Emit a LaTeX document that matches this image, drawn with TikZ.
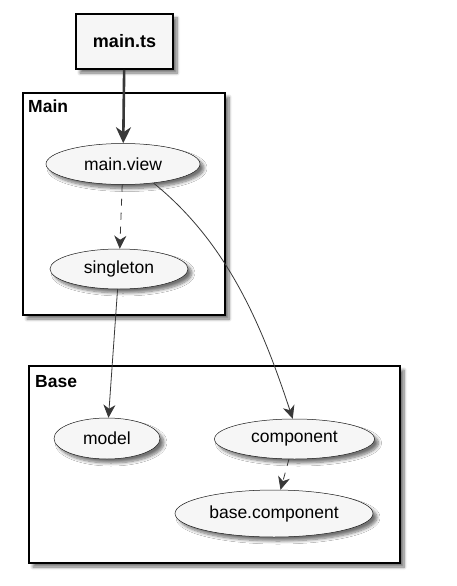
\documentclass[tikz,border=0pt]{standalone}
\usepackage{fontspec}
\setmainfont{Liberation Sans}
\usetikzlibrary{arrows.meta,shapes.geometric,shadows,shadows.blur}

\definecolor{lineC}{HTML}{383838}
\definecolor{boxC}{HTML}{F6F6F6}
\definecolor{edgeC}{HTML}{181818}

\begin{document}
\begin{tikzpicture}[x=1pt,y=-1pt,font=\fontsize{17.5}{20}\selectfont,
	>={Stealth[length=13pt,width=12pt,inset=4pt]}]
	
	\tikzset{
		pkg/.style={draw=black,line width=1.3pt,fill=white,inner sep=0,
			blur shadow={shadow xshift=4pt,shadow yshift=-4pt,shadow blur steps=8,shadow blur radius=3pt,shadow opacity=55}},
		usecase/.style={ellipse,draw=edgeC,line width=0.5pt,fill=boxC,inner sep=0,
			blur shadow={shadow xshift=4pt,shadow yshift=-4pt,shadow blur steps=8,shadow blur radius=3pt,shadow opacity=55}},
		pkglabel/.style={anchor=north west,inner sep=0,font=\fontsize{17.5}{20}\selectfont\bfseries},
		dep/.style={->,draw=lineC,line width=0.8pt},
		incl/.style={dep,dash pattern=on 7pt off 7pt},
	}
	
	% Macro: one use case ellipse
	% Arguments: name, center x, center y, width, height, text
	\newcommand{\UseCase}[6]{%
		\node[usecase,minimum width=#4,minimum height=#5] (#1) at (#2,#3) {#6};
	}
	
	\useasboundingbox (0,0) rectangle (457,586);
	
	%========================================
	% Packages
	%========================================
	\node[pkg,minimum width=202,minimum height=222] (pkgMain) at (124,204) {};
	\node[pkglabel] (lblMain) at (28,100) {Main};
	
	\node[pkg,minimum width=371,minimum height=197] (pkgBase) at (214.5,464.5) {};
	\node[pkglabel] (lblBase) at (35,375) {Base};
	
	%========================================
	% Entry file
	%========================================
	\node[pkg,fill=boxC,line width=1.6pt,minimum width=97,minimum height=55,
		font=\fontsize{18}{20}\selectfont\bfseries] (ts) at (124.5,41.5) {main.ts};
	
	%========================================
	% Use cases
	%========================================
	\UseCase{mview}{123}{164}{154}{41}{main.view}
	\UseCase{single}{119}{269}{138}{40}{singleton}
	\UseCase{model}{107}{438.5}{106}{41}{model}
	\UseCase{comp}{294.5}{439}{160}{40}{component}
	\UseCase{bcomp}{274}{513.5}{198}{47}{base.component}
	
	%========================================
	% Dependencies
	%========================================
	% main.ts -> main.view
	\draw[dep,line width=2.6pt,>={Stealth[length=16pt,width=15pt,inset=5pt]}] (ts) -- (mview);
	% main.view -> singleton
	\draw[incl] (mview) -- (single);
	% singleton -> model
	\draw[dep] (single) -- (model);
	% main.view -> component
	\draw[dep] (mview.-32) .. controls (229,244) and (263,329) .. (comp.95);
	% component -> base.component
	\draw[incl] (comp) -- (bcomp);
	
\end{tikzpicture}
\end{document}
